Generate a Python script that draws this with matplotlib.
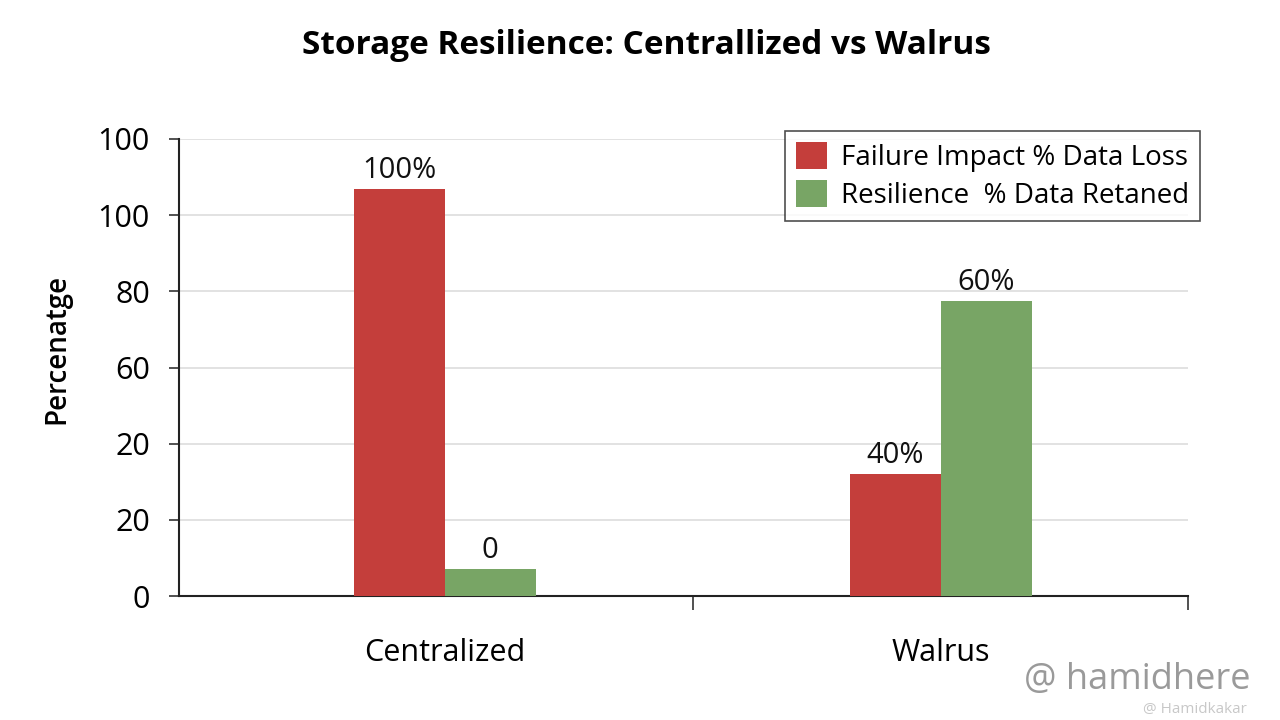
import numpy as np
import matplotlib
matplotlib.use('Agg')
import matplotlib.pyplot as plt

plt.rcParams['font.family'] = ['Open Sans', 'DejaVu Sans']

categories = ['Centralized', 'Walrus']
series_names = ['Failure Impact % Data Loss', 'Resilience  % Data Retaned']
# bar heights as drawn
loss_vals = [106.9, 32.0]
retained_vals = [7.1, 77.5]
loss_labels = ['100%', '40%']
retained_labels = ['0', '60%']
ytick_vals = [0, 20, 40, 60, 80, 100, 120]
ytick_text = ['0', '20', '20', '60', '80', '100', '100']

red = '#C43E3B'
green = '#78A565'

fig = plt.figure(figsize=(12.8, 7.2), dpi=100)
ax = fig.add_axes([179 / 1280, 1 - 596 / 720, 1009 / 1280, 457 / 720])

x = np.arange(len(categories))
w = 0.183
b1 = ax.bar(x - w / 2, loss_vals, w, color=red, label=series_names[0], zorder=3)
b2 = ax.bar(x + w / 2, retained_vals, w, color=green, label=series_names[1], zorder=3)

# value labels on top of each bar
for bars, labels in [(b1, loss_labels), (b2, retained_labels)]:
    for rect, lab in zip(bars, labels):
        ax.annotate(lab, (rect.get_x() + rect.get_width() / 2, rect.get_height()),
                    xytext=(0, 3), textcoords='offset points',
                    ha='center', va='bottom', fontsize=21, color='#111111')

ax.set_xlim(-0.536, 1.498)
ax.set_ylim(0, 120)
ax.set_yticks(ytick_vals)
ax.set_yticklabels(ytick_text, fontsize=22)
ax.set_xticks([0.5, 1.498])
ax.set_xticklabels([])
ax.tick_params(axis='x', length=10, width=1.2, color='#333333')
ax.tick_params(axis='y', length=7, width=1.2, color='#333333', pad=14)
ax.yaxis.grid(True, color='#DDDDDD', linewidth=1.2, zorder=0)

for i, c in enumerate(categories):
    ax.text(i, -15, c, ha='center', va='center', fontsize=22, clip_on=False)

for s in ['top', 'right']:
    ax.spines[s].set_visible(False)
for s in ['left', 'bottom']:
    ax.spines[s].set_linewidth(1.5)
    ax.spines[s].set_color('#222222')

fig.text(57 / 1280, 1 - 349 / 720, 'Percenatge', rotation=90, ha='center', va='center',
         fontsize=20, fontweight='semibold')

leg = fig.legend(handles=[b1, b2], labels=series_names, loc='upper right',
                 bbox_to_anchor=(1200 / 1280, 1 - 131 / 720), borderaxespad=0,
                 fontsize=20, frameon=True, fancybox=False, edgecolor='#222222',
                 handlelength=1.1, handleheight=1.1, borderpad=0.4,
                 labelspacing=0.3, handletextpad=0.5)
leg.get_frame().set_linewidth(1.2)

fig.text(646 / 1280, 1 - 46 / 720, 'Storage Resilience: Centrallized vs Walrus',
         ha='center', va='center', fontsize=24, fontweight='bold')

# watermarks
fig.text(1137 / 1280, 1 - 680 / 720, '@ hamidhere', ha='center', va='center',
         fontsize=26, color='#9A9A9A')
fig.text(1195 / 1280, 1 - 709 / 720, '@ Hamidkakar', ha='center', va='center',
         fontsize=11, color='#C8C8C8')

fig.savefig('out.png', dpi=100)
